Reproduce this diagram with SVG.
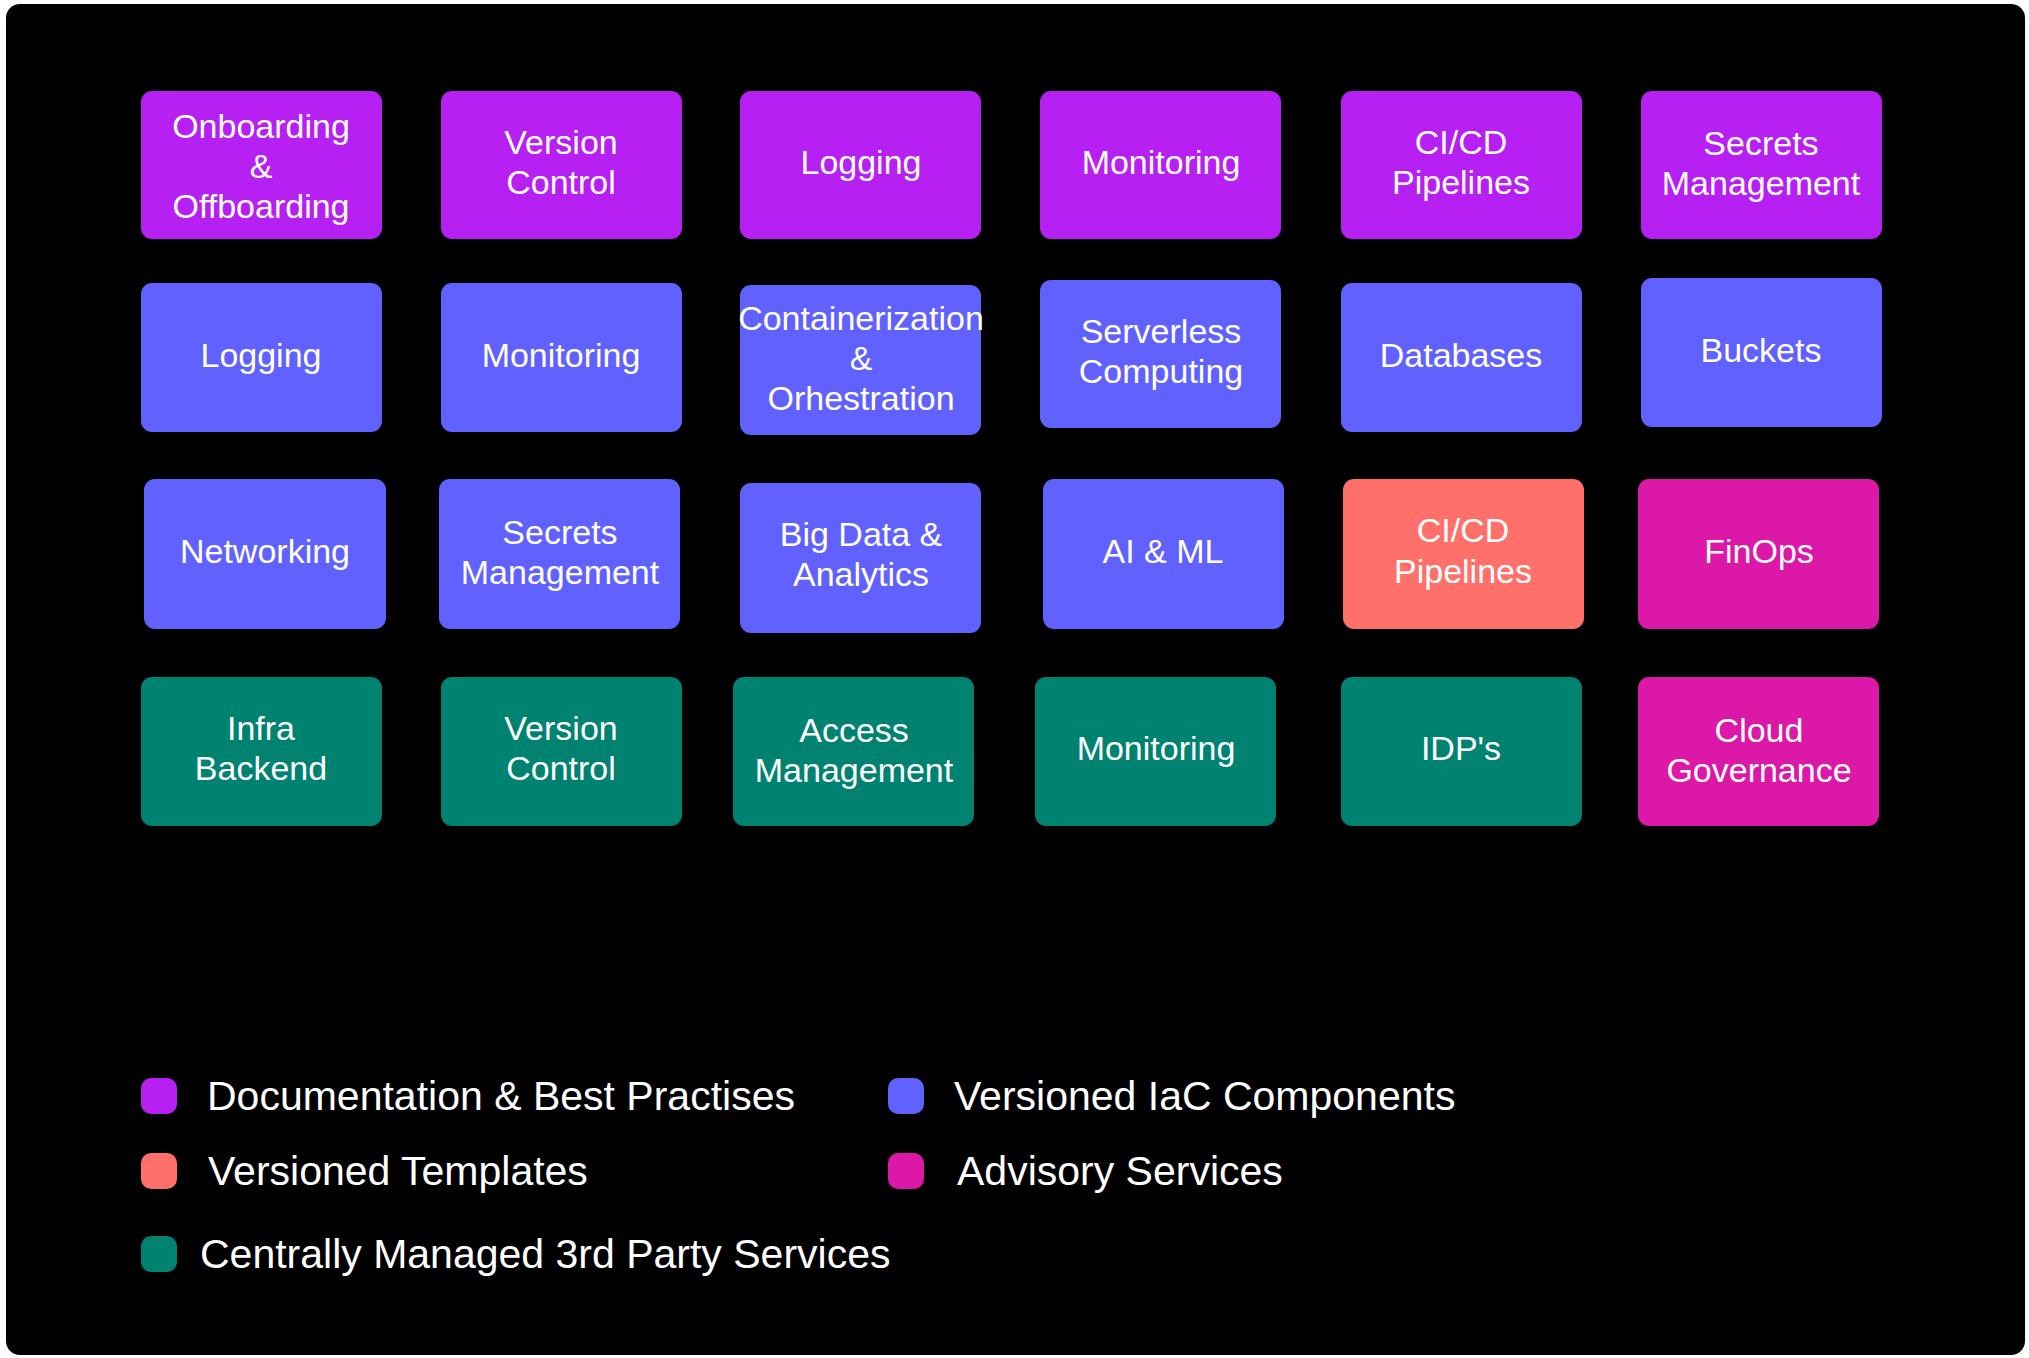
<svg xmlns="http://www.w3.org/2000/svg" width="2029" height="1358" viewBox="0 0 2029 1358">
<style>
.n text{font-family:"Liberation Sans",Arial,sans-serif;font-size:34px;fill:#fff;text-anchor:middle;dominant-baseline:central}
.p{fill:#B720F2}.b{fill:#6161FF}.s{fill:#FF706A}.m{fill:#DC18A8}.t{fill:#008270}
.l{font-family:"Liberation Sans",Arial,sans-serif;font-size:41px;fill:#fff;dominant-baseline:central}
</style>
<rect width="2029" height="1358" fill="#fff"/>
<rect x="6" y="4" width="2019" height="1351" rx="14" fill="#000"/>
<g class="n">
<g id="r1c1"><rect class="p" x="141" y="91" width="241" height="148" rx="11"/><text x="261" y="126">Onboarding</text><text x="261" y="166">&amp;</text><text x="261" y="206">Offboarding</text></g>
<g id="r1c2"><rect class="p" x="441" y="91" width="241" height="148" rx="11"/><text x="561" y="142">Version</text><text x="561" y="182">Control</text></g>
<g id="r1c3"><rect class="p" x="740" y="91" width="241" height="148" rx="11"/><text x="861" y="162">Logging</text></g>
<g id="r1c4"><rect class="p" x="1040" y="91" width="241" height="148" rx="11"/><text x="1161" y="162">Monitoring</text></g>
<g id="r1c5"><rect class="p" x="1341" y="91" width="241" height="148" rx="11"/><text x="1461" y="142">CI/CD</text><text x="1461" y="182">Pipelines</text></g>
<g id="r1c6"><rect class="p" x="1641" y="91" width="241" height="148" rx="11"/><text x="1761" y="143">Secrets</text><text x="1761" y="183">Management</text></g>
<g id="r2c1"><rect class="b" x="141" y="283" width="241" height="149" rx="11"/><text x="261" y="355">Logging</text></g>
<g id="r2c2"><rect class="b" x="441" y="283" width="241" height="149" rx="11"/><text x="561" y="355">Monitoring</text></g>
<g id="r2c3"><rect class="b" x="740" y="285" width="241" height="150" rx="11"/><text x="861" y="318">Containerization</text><text x="861" y="358">&amp;</text><text x="861" y="398">Orhestration</text></g>
<g id="r2c4"><rect class="b" x="1040" y="280" width="241" height="148" rx="11"/><text x="1161" y="331">Serverless</text><text x="1161" y="371">Computing</text></g>
<g id="r2c5"><rect class="b" x="1341" y="283" width="241" height="149" rx="11"/><text x="1461" y="355">Databases</text></g>
<g id="r2c6"><rect class="b" x="1641" y="278" width="241" height="149" rx="11"/><text x="1761" y="350">Buckets</text></g>
<g id="r3c1"><rect class="b" x="144" y="479" width="242" height="150" rx="11"/><text x="265" y="551">Networking</text></g>
<g id="r3c2"><rect class="b" x="439" y="479" width="241" height="150" rx="11"/><text x="560" y="532">Secrets</text><text x="560" y="572">Management</text></g>
<g id="r3c3"><rect class="b" x="740" y="483" width="241" height="150" rx="11"/><text x="861" y="534">Big Data &amp;</text><text x="861" y="574">Analytics</text></g>
<g id="r3c4"><rect class="b" x="1043" y="479" width="241" height="150" rx="11"/><text x="1163" y="551">AI &amp; ML</text></g>
<g id="r3c5"><rect class="s" x="1343" y="479" width="241" height="150" rx="11"/><text x="1463" y="530">CI/CD</text><text x="1463" y="571">Pipelines</text></g>
<g id="r3c6"><rect class="m" x="1638" y="479" width="241" height="150" rx="11"/><text x="1759" y="551">FinOps</text></g>
<g id="r4c1"><rect class="t" x="141" y="677" width="241" height="149" rx="11"/><text x="261" y="728">Infra</text><text x="261" y="768">Backend</text></g>
<g id="r4c2"><rect class="t" x="441" y="677" width="241" height="149" rx="11"/><text x="561" y="728">Version</text><text x="561" y="768">Control</text></g>
<g id="r4c3"><rect class="t" x="733" y="677" width="241" height="149" rx="11"/><text x="854" y="730">Access</text><text x="854" y="770">Management</text></g>
<g id="r4c4"><rect class="t" x="1035" y="677" width="241" height="149" rx="11"/><text x="1156" y="748">Monitoring</text></g>
<g id="r4c5"><rect class="t" x="1341" y="677" width="241" height="149" rx="11"/><text x="1461" y="748">IDP's</text></g>
<g id="r4c6"><rect class="m" x="1638" y="677" width="241" height="149" rx="11"/><text x="1759" y="730">Cloud</text><text x="1759" y="770">Governance</text></g>
</g>
<g id="connectors"/>
<g id="legend">
<rect class="p" x="141" y="1078" width="36" height="36" rx="10"/><text class="l" x="207" y="1096">Documentation &amp; Best Practises</text>
<rect class="b" x="888" y="1078" width="36" height="36" rx="10"/><text class="l" x="954" y="1096">Versioned IaC Components</text>
<rect class="s" x="141" y="1153" width="36" height="36" rx="10"/><text class="l" x="208" y="1171">Versioned Templates</text>
<rect class="m" x="888" y="1153" width="36" height="36" rx="10"/><text class="l" x="957" y="1171">Advisory Services</text>
<rect class="t" x="141" y="1236" width="36" height="36" rx="10"/><text class="l" x="200" y="1254">Centrally Managed 3rd Party Services</text>
</g>
</svg>
